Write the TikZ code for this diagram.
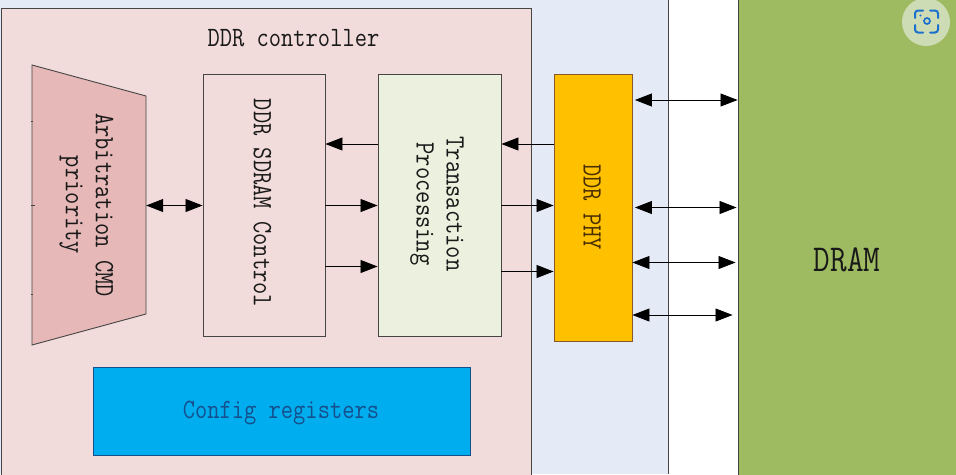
\documentclass[tikz,border=0pt]{standalone}
\usepackage{fontspec}
\usetikzlibrary{arrows.meta}
\newfontfamily\dgmfont[FakeStretch=0.85]{Latin Modern Mono}
\definecolor{regionblue}{HTML}{E4EBF6}
\definecolor{ctrlpink}{HTML}{F2DCDB}
\definecolor{arbpink}{HTML}{E6B8B7}
\definecolor{transgreen}{HTML}{EBF1DE}
\definecolor{phyamber}{HTML}{FFC000}
\definecolor{cfgblue}{HTML}{00AEEF}
\definecolor{dramgreen}{HTML}{9FBB62}
\definecolor{edge}{HTML}{454545}
\definecolor{iconbg}{HTML}{CDDCB4}
\definecolor{iconblue}{HTML}{1A70CC}
\definecolor{cfgtextc}{HTML}{154F8C}
\definecolor{phytextc}{HTML}{4A3000}
\tikzset{
  x=1pt,y=-1pt,
  lab/.style={font=\dgmfont\fontsize{28}{30}\selectfont,text=black!90,align=center,inner sep=0pt},
  box/.style={draw=edge,line width=0.9pt,minimum width=#1,inner sep=0pt},
  conn/.style={draw=black,line width=0.8pt,-{Triangle[length=17pt,width=13pt]}},
  biconn/.style={draw=black,line width=0.8pt,{Triangle[length=17pt,width=13pt]}-{Triangle[length=17pt,width=13pt]}},
}
\begin{document}
\begin{tikzpicture}
\useasboundingbox (0,0) rectangle (956,474);
% regions
\fill[regionblue] (0,0) rectangle (668,474);
\draw[edge,line width=1pt] (668,0) -- (668,474);
\path[fill=ctrlpink,draw=edge,line width=1pt] (1,8) -- (531,8) -- (531,476) -- (1,476) -- cycle;
\node[lab] (ctrltitle) at (293.5,38) {DDR controller};
% trapezoid
\path[fill=arbpink,draw=edge,line width=0.9pt] (32,65) -- (146,96) -- (146,314) -- (32,345) -- cycle;
\draw[edge,line width=0.7pt] (30.5,121) -- (33,121) (30.5,205.5) -- (35,205.5) (30.5,294) -- (33,294);
\node[minimum width=114pt,minimum height=280pt,inner sep=0pt] (arb) at (89,205) {};
\node[lab,rotate=-90] (arbtext) at (86.5,205) {Arbitration CMD\\[0pt]priority};
% blocks
\node[box=122pt,minimum height=262pt,fill=ctrlpink] (sd) at (264,205) {};
\node[lab,rotate=-90] (sdtext) at (262.5,203) {DDR SDRAM Control};
\node[box=123pt,minimum height=262pt,fill=transgreen] (tp) at (439.5,205) {};
\node[lab,rotate=-90] (tptext) at (437,204) {Transaction\\[0pt]Processing};
\node[box=78pt,minimum height=267pt,fill=phyamber,draw=brown!70!black] (phy) at (593,207.5) {};
\node[lab,rotate=-90,text=phytextc] (phytext) at (592,207) {DDR PHY};
\node[box=377pt,minimum height=88pt,fill=cfgblue,draw=cfgtextc] (cfg) at (281.5,411) {};
\node[lab,text=cfgtextc] (cfgtext) at (281,413) {Config registers};
\node[box=220pt,minimum height=480pt,fill=dramgreen,draw=black!75] (dram) at (848,237) {};
\node[lab,font=\dgmfont\fontsize{38}{40}\selectfont] (dramtext) at (847,260) {DRAM};
% connectors
\draw[biconn] (arb.east |- 0,205.5) -- (sd.west |- 0,205.5);
\draw[conn] (tp.west |- 0,144) -- (sd.east |- 0,144);
\draw[conn] (sd.east |- 0,205.5) -- (tp.west |- 0,205.5);
\draw[conn] (sd.east |- 0,266.5) -- (tp.west |- 0,266.5);
\draw[conn] (phy.west |- 0,144) -- (tp.east |- 0,144);
\draw[conn] (tp.east |- 0,205.5) -- (phy.west |- 0,205.5);
\draw[conn] (tp.east |- 0,271.5) -- (phy.west |- 0,271.5);
\draw[biconn,shorten <=2.5pt] (phy.east |- 0,100) -- (dram.west |- 0,100);
\draw[biconn,shorten <=2.5pt,shorten >=1pt] (phy.east |- 0,207.5) -- (dram.west |- 0,207.5);
\draw[biconn,shorten >=2pt] (phy.east |- 0,262.5) -- (dram.west |- 0,262.5);
\draw[biconn,shorten >=5pt] (phy.east |- 0,315) -- (dram.west |- 0,315);
% overlay icon
\fill[iconbg] (926,22) circle (24);
\draw[iconblue,line width=2pt,line cap=round,rounded corners=3pt]
  (915,18) -- (915,10.5) -- (923,10.5)
  (930,10.5) -- (938,10.5) -- (938,18)
  (938,25) -- (938,32.5) -- (930,32.5)
  (923,32.5) -- (915,32.5) -- (915,25);
\draw[iconblue,line width=1.7pt] (927,21) circle (3);
\fill[iconblue] (920.5,15.5) circle (1.2);
\end{tikzpicture}
\end{document}
